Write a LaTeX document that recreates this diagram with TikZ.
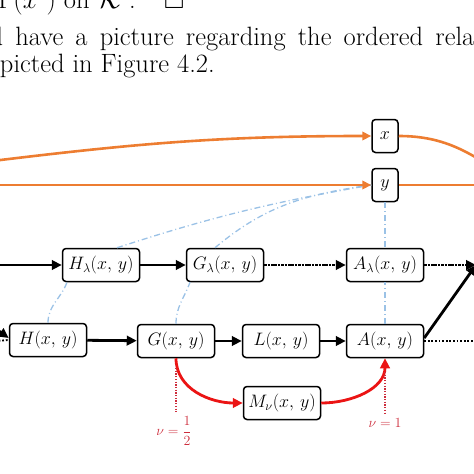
\RequirePackage{fix-cm}
\documentclass[tikz,border=0pt]{standalone}
\usepackage{amssymb}
\usetikzlibrary{arrows.meta}
\definecolor{myorange}{RGB}{237,125,49}
\definecolor{myblue}{RGB}{155,194,230}
\definecolor{myred}{RGB}{235,20,20}
\definecolor{labred}{RGB}{205,45,60}
\begin{document}
\begin{tikzpicture}[x=1pt,y=-1pt,
  box/.style={draw=black,line width=1.5pt,rounded corners=3.5pt,fill=white,
    minimum width=77pt,minimum height=33pt,inner sep=0pt,
    font=\fontsize{18}{21}\selectfont},
  vbox/.style={box,minimum width=26pt},
  blk/.style={line width=2.8pt,-{Triangle[length=10pt,width=9.5pt]}},
  blkd/.style={line width=2.8pt,dash pattern=on 2.6pt off 0.8pt,-{Triangle[length=10pt,width=9.5pt]}},
  dotln/.style={line width=1.8pt,dash pattern=on 1.8pt off 1.8pt},
  orng/.style={myorange,line width=2.6pt,-{Triangle[length=9pt,width=8.5pt]}},
  orngl/.style={myorange,line width=2.6pt},
  redarr/.style={myred,line width=2.8pt,-{Triangle[length=10pt,width=9.5pt]}},
  reddot/.style={labred,line width=1.3pt,dash pattern=on 1.3pt off 1.4pt},
  bl/.style={myblue,line width=1.3pt,dash pattern=on 6pt off 3pt on 1pt off 3pt},
  lab/.style={labred,inner sep=0pt,font=\fontsize{14}{16}\selectfont},
  para/.style={anchor=base west,inner sep=0pt,font=\fontsize{26.5}{29}\selectfont}
]
\useasboundingbox (0,0) rectangle (474,474);
\clip (0,0) rectangle (474,474);

% surrounding text
\node[para] (t1) at (-2,8) {$\Gamma(x^2)$ on $\mathcal{R}^2$.\hspace{28pt}$\square$};
\node[para] (t2) at (-10.5,45) {\makebox[494pt][s]{d have a picture regarding the ordered relat}};
\node[para] (t3) at (-11,72) {epicted in Figure 4.2.};

% nodes
\node[vbox] (X) at (385,136) {$x$};
\node[vbox] (Y) at (385,185) {$y$};
\node[box] (Hl) at (101,265) {$H_\lambda(x,\,y)$};
\node[box] (Gl) at (225,265) {$G_\lambda(x,\,y)$};
\node[box] (Al) at (385,265) {$A_\lambda(x,\,y)$};
\node[box] (H) at (48,340) {$H(x,\,y)$};
\node[box] (G) at (176,341) {$G(x,\,y)$};
\node[box] (L) at (281,341) {$L(x,\,y)$};
\node[box] (A) at (385,341) {$A(x,\,y)$};
\node[box] (M) at (282,403) {$M_\nu(x,\,y)$};

% blue dash-dot projections
\draw[bl] ([xshift=16pt]Hl.north) to[out=18,in=190] (Y.west);
\draw[bl] ([xshift=-10pt]Gl.north) to[out=40,in=188] (Y.west);
\draw[bl] (Y.south) -- (Al.north);
\draw[bl] (A.north) -- (Al.south);
\draw[bl] (H.north) to[out=90,in=250] ([xshift=-34pt]Hl.south);
\draw[bl] (G.north) to[out=90,in=250] ([xshift=-35pt]Gl.south);

% orange
\coordinate (oxs) at (-20,162.5);
\coordinate (oxe) at (510,180);
\coordinate (oys) at (-10,185);
\coordinate (oye) at (484,185);
\draw[orng] (oxs) to[out=7,in=180] (X.west);
\draw[orngl] (X.east) to[out=0,in=145] (oxe);
\draw[orng] (oys) -- (Y.west);
\draw[orngl] (Y.east) -- (oye);

% black
\coordinate (inL) at (-10,265);
\coordinate (outR) at (476,265);
\coordinate (inH) at (-14,322);
\coordinate (dotL) at (-5,341);
\coordinate (dotR) at (480,341);
\draw[blk] (inL) -- (Hl);
\draw[blk] (Hl) -- (Gl);
\draw[blkd] (Gl) -- (Al);
\draw[blkd] (Al) -- (outR);
\draw[blk] ([yshift=3pt]A.east) -- (outR);
\draw[blk] (inH) -- ([yshift=2pt]H.west);
\draw[dotln] (dotL) -- (H.west);
\draw[dotln] (A.east) -- (dotR);
\draw[blk] (H) -- (G);
\draw[blk] (G) -- (L);
\draw[blk] (L) -- (A);

% red
\draw[redarr] (G.south) to[out=-90,in=180] (M.west);
\draw[redarr] (M.east) to[out=0,in=-90] (A.south);
\coordinate (g1) at (176,368);
\coordinate (g2) at (176,412);
\coordinate (a1) at (385,372);
\coordinate (a2) at (385,413);
\draw[reddot] (g1) -- (g2);
\draw[reddot] (a1) -- (a2);
\node[lab] (lh) at (174,431) {$\displaystyle\nu=\frac{1}{2}$};
\node[lab] (l1) at (385,423) {$\nu=1$};
\end{tikzpicture}
\end{document}
